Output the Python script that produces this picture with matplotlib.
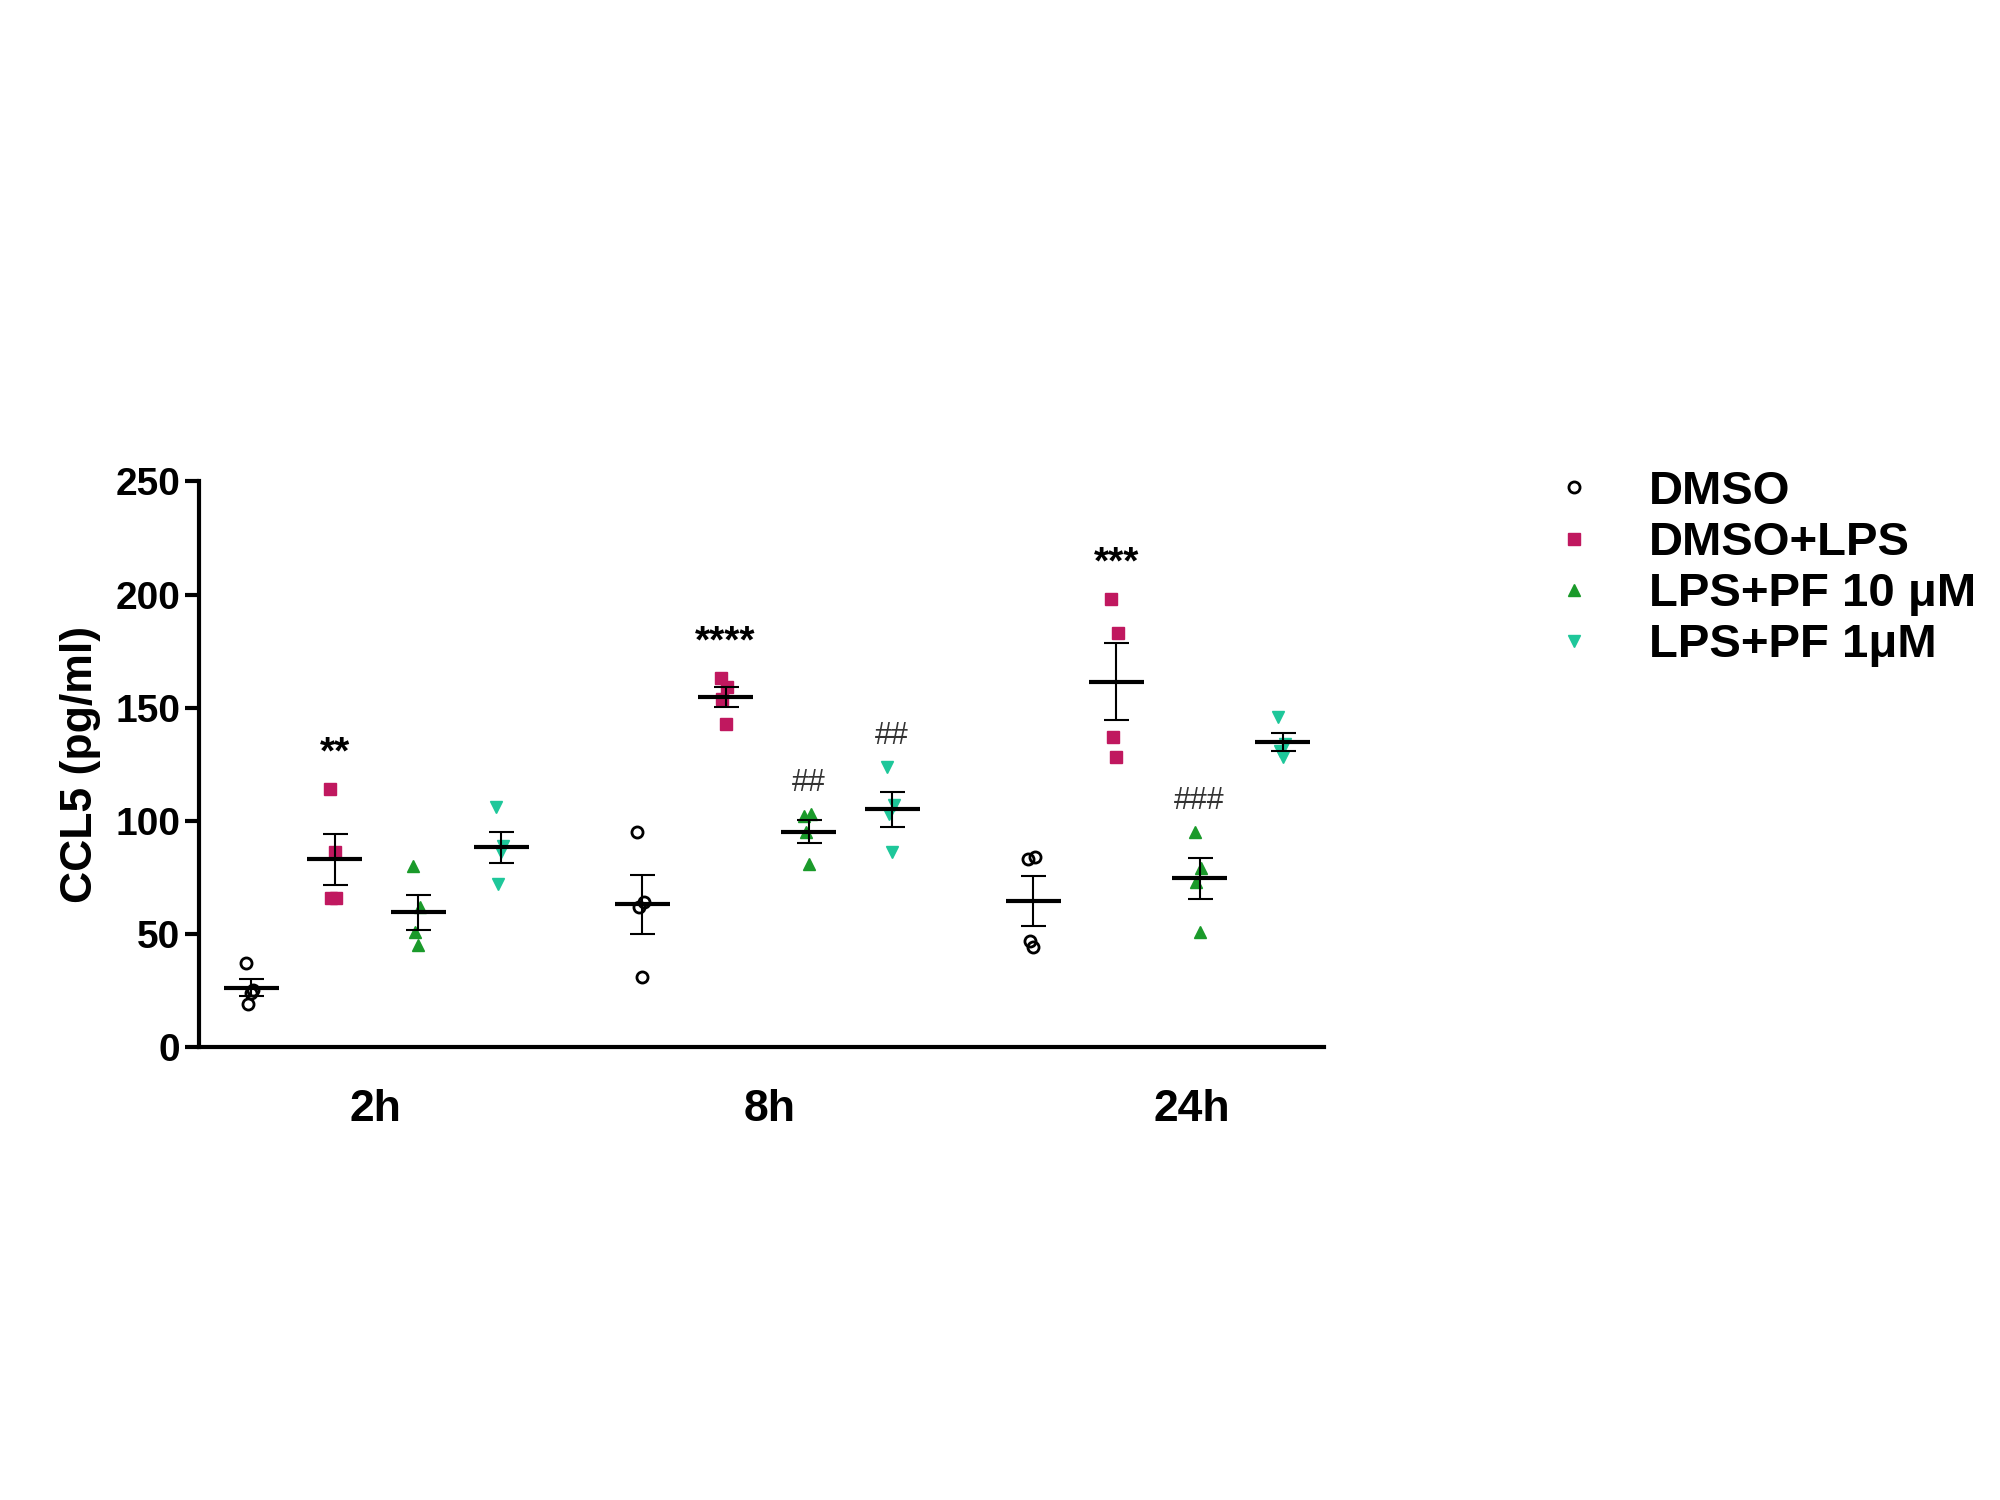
import matplotlib
matplotlib.use("Agg")
import matplotlib.pyplot as plt
import numpy as np

plt.rcParams["font.family"] = ["Liberation Sans", "DejaVu Sans"]
plt.rcParams["font.weight"] = "bold"

groups = ["DMSO", "DMSO+LPS", "LPS+PF 10 μM", "LPS+PF 1μM"]
times = ["2h", "8h", "24h"]
dmso = [[37, 25, 19, 24], [95, 64, 62, 31], [83, 84, 47, 44]]
dmso_lps = [[114, 66, 66, 86], [163, 159, 154, 143], [198, 183, 137, 128]]
pf10 = [[80, 62, 51, 45], [102, 103, 95, 81], [95, 79, 73, 51]]
pf1 = [[106, 89, 72, 86], [124, 107, 103, 86], [146, 134, 131, 128]]
stars = {(1, 0): "**", (1, 1): "****", (1, 2): "***"}
hashes = {(2, 1): "##", (3, 1): "##", (2, 2): "###"}

series = [dmso, dmso_lps, pf10, pf1]
styles = [
    dict(marker="o", mfc="none", mec="black", color="black", ms=8, mew=2),
    dict(marker="s", mfc="#c0185f", mec="#c0185f", ms=8),
    dict(marker="^", mfc="#1a9a2a", mec="#1a9a2a", ms=8),
    dict(marker="v", mfc="#1ec79a", mec="#1ec79a", ms=8),
]
offsets = [-0.06, 0.02, -0.04, 0.0]

fig = plt.figure(figsize=(20, 15), dpi=100)
ax = fig.add_axes([0.0995, 0.302, 0.5625, 0.377])

for ti in range(3):
    for gi, data in enumerate(series):
        x = ti * 305 / 65 + gi + 0.63
        vals = np.array(data[ti], dtype=float)
        xs = x + np.array(offsets)
        ax.plot(xs, vals, linestyle="none", **styles[gi])
        m = vals.mean()
        se = vals.std(ddof=1) / np.sqrt(len(vals))
        ax.hlines(m, x - 0.33, x + 0.33, color="black", lw=3)
        ax.errorbar(x, m, yerr=se, color="black", lw=1.5, capsize=9, capthick=1.5)
        top = max(vals.max(), m + se)
        if (gi, ti) in stars:
            ax.text(x, top + 8, stars[(gi, ti)], ha="center", va="bottom", fontsize=28)
        if (gi, ti) in hashes:
            ax.text(x, top + 7, hashes[(gi, ti)], ha="center", va="bottom",
                    fontsize=22, fontweight="normal", color="#333333")

ax.set_xlim(0, 878 / 65)
ax.set_ylim(0, 250)
ax.set_yticks([0, 50, 100, 150, 200, 250])
ax.set_xticks([138 / 65, 445 / 65, 775 / 65])
ax.set_xticklabels(times)
ax.tick_params(axis="x", length=0, labelsize=32, pad=30)
ax.tick_params(axis="y", labelsize=28, width=3, length=10)
for s in ["top", "right"]:
    ax.spines[s].set_visible(False)
for s in ["left", "bottom"]:
    ax.spines[s].set_linewidth(3)
ax.set_ylabel("CCL5 (pg/ml)", fontsize=32, fontweight="bold", labelpad=10)

handles = [plt.Line2D([], [], linestyle="none", **styles[i]) for i in range(4)]
fig.legend(handles, groups, loc="upper left", bbox_to_anchor=(0.742, 0.715),
           frameon=False, handletextpad=0.6, labelspacing=0.15,
           prop={"size": 34, "weight": "bold"})

fig.savefig("out.png", dpi=100)
